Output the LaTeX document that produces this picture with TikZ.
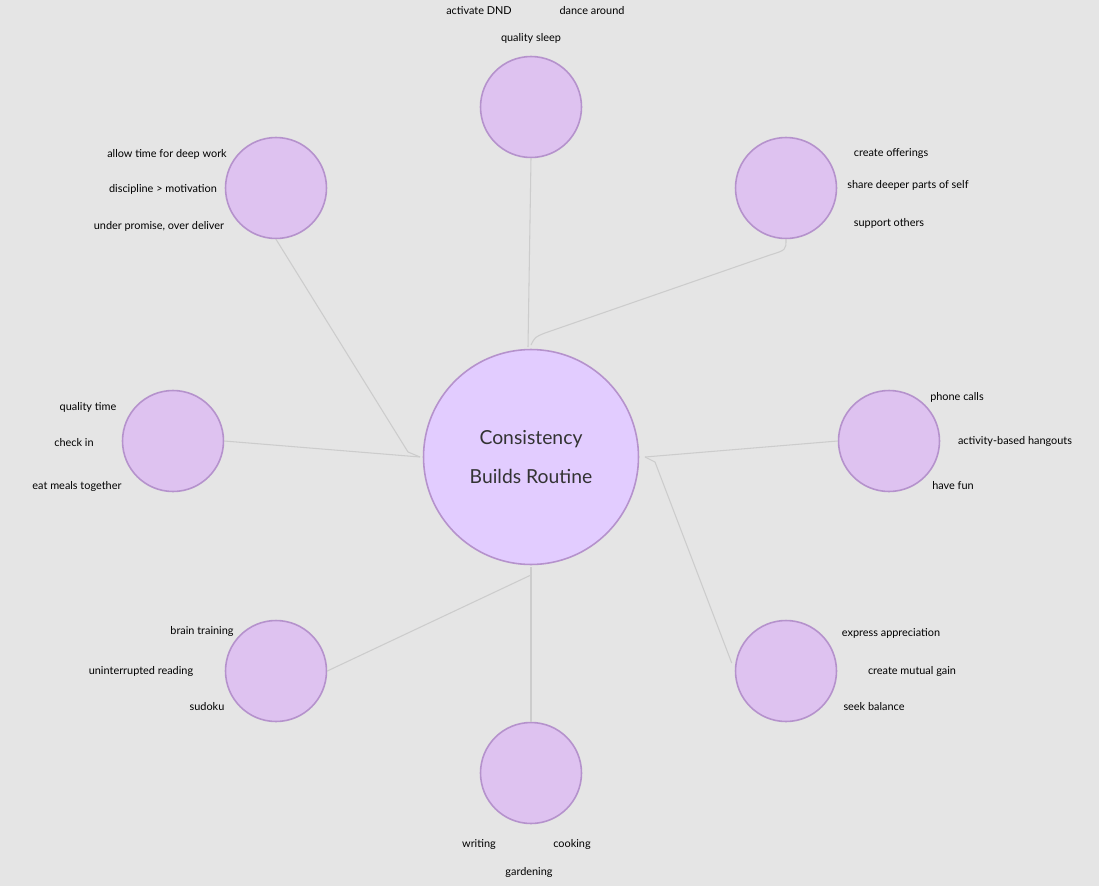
\documentclass[tikz,border=0pt]{standalone}
\usepackage{fontspec}
\setmainfont{Lato}
\begin{document}
\begin{tikzpicture}[x=0.02cm,y=-0.02cm,
  lbl/.style={font=\fontsize{6.2}{7}\selectfont,text=black,inner sep=0},
  sub/.style={circle,draw=circS,fill=circF,line width=0.9pt,minimum size=2.02cm,inner sep=0},
  conn/.style={draw=lineC,line width=0.6pt}]
\definecolor{bgC}{HTML}{E5E5E5}
\definecolor{circF}{HTML}{DEC2F0}
\definecolor{circS}{HTML}{B592CC}
\definecolor{cenF}{HTML}{E2CCFF}
\definecolor{lineC}{HTML}{CCCCCC}
\fill[bgC] (0,0) rectangle (1099,886);
\useasboundingbox (0,0) rectangle (1099,886);
\node[circle,draw=circS,fill=cenF,line width=0.9pt,minimum size=4.3cm,inner sep=0,align=center,
  font=\fontsize{11}{22}\selectfont,text=black!80] (c) at (531,457) {Consistency\\Builds Routine};
\node[sub] (t) at (531,107) {};
\node[sub] (tl) at (276,188) {};
\node[sub] (tr) at (786,188) {};
\node[sub] (l) at (173,441) {};
\node[sub] (r) at (889,441) {};
\node[sub] (bl) at (276,671) {};
\node[sub] (br) at (786,671) {};
\node[sub] (b) at (531,773) {};
\coordinate (ct) at (528,347);
\coordinate (ctr) at (531,345);
\coordinate (cl) at (420,457);
\coordinate (cr) at (645,457);
\coordinate (cb) at (531,567);
\draw[conn] (t.south) -- (ct);
\draw[conn] (tr.south) .. controls (786,250) .. (770,255) -- (545,333) .. controls (535,337) .. (ctr);
\draw[conn] (tl.south) -- (408,452) -- (cl);
\draw[conn] (l.east) -- (cl);
\draw[conn] (r.west) -- (cr);
\draw[conn] (br.west) ++(-3,-8) -- (655,462) -- (cr);
\draw[conn] (bl.east) -- (531,575) -- (cb);
\draw[conn] (b.north) -- (cb);
\node[lbl] (a1) at (479,11) {activate DND};
\node[lbl] (a2) at (592,11) {dance around};
\node[lbl] (a3) at (531,38) {quality sleep};
\node[lbl] (b1) at (167,154) {allow time for deep work};
\node[lbl] (b2) at (163,189) {discipline > motivation};
\node[lbl] (b3) at (159,226) {under promise, over deliver};
\node[lbl] (c1) at (891,154) {create offerings};
\node[lbl] (c2) at (908,185) {share deeper parts of self};
\node[lbl] (c3) at (889,223) {support others};
\node[lbl] (d1) at (88,407) {quality time};
\node[lbl] (d2) at (74,443) {check in};
\node[lbl] (d3) at (77,486) {eat meals together};
\node[lbl] (e1) at (957,397) {phone calls};
\node[lbl] (e2) at (1015,441) {activity-based hangouts};
\node[lbl] (e3) at (953,486) {have fun};
\node[lbl] (f1) at (202,631) {brain training};
\node[lbl] (f2) at (141,671) {uninterrupted reading};
\node[lbl] (f3) at (207,707) {sudoku};
\node[lbl] (g1) at (891,633) {express appreciation};
\node[lbl] (g2) at (912,671) {create mutual gain};
\node[lbl] (g3) at (874,707) {seek balance};
\node[lbl] (h1) at (479,844) {writing};
\node[lbl] (h2) at (572,844) {cooking};
\node[lbl] (h3) at (529,872) {gardening};
\end{tikzpicture}
\end{document}
